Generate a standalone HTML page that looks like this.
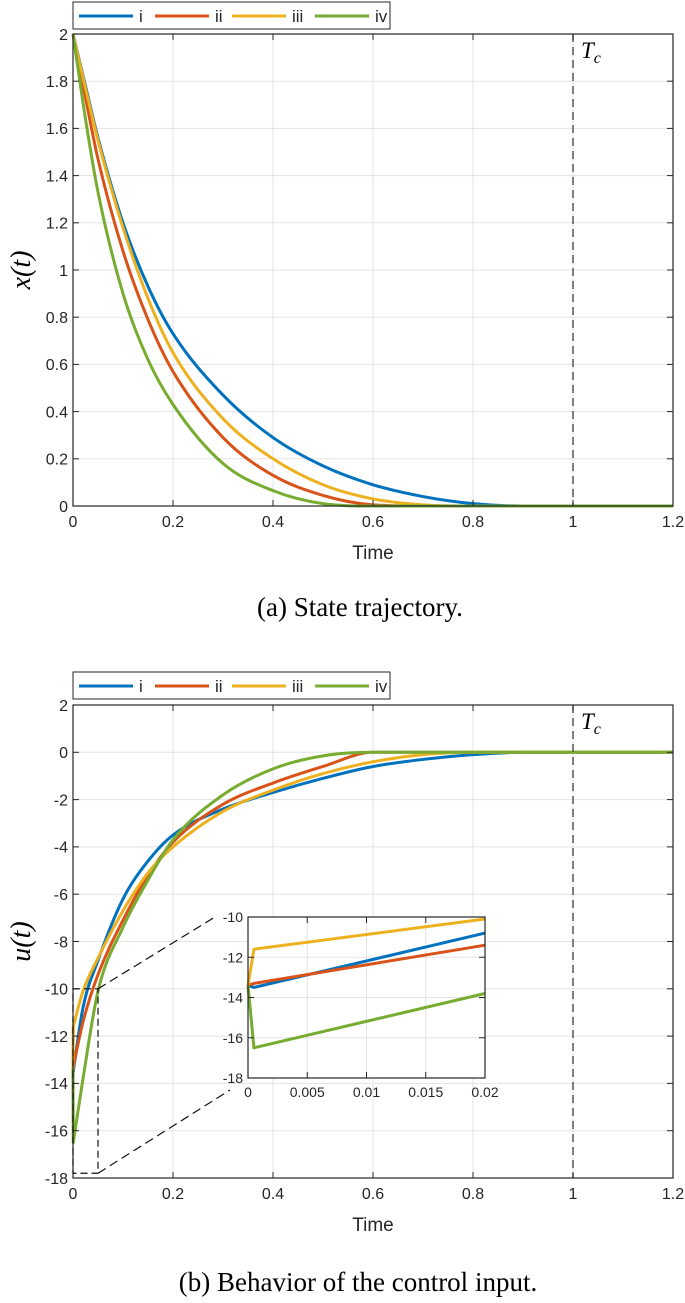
<!DOCTYPE html>
<html><head><meta charset="utf-8">
<style>
body{margin:0;background:#fff;}
svg{display:block;font-family:"Liberation Sans",sans-serif;}
</style></head>
<body>
<svg id="fig" width="685" height="1303" viewBox="0 0 685 1303" xmlns="http://www.w3.org/2000/svg">
<text x="360" y="616" font-family="Liberation Serif,serif" font-size="27" text-anchor="middle">(a) State trajectory.</text>
<text x="358" y="1291" font-family="Liberation Serif,serif" font-size="27" text-anchor="middle">(b) Behavior of the control input.</text>
</svg>
<script>
const seriesNames=['i','ii','iii','iv'];
const colors=['#0072BD','#D95319','#EDB120','#77AC30'];
// state trajectory data
const tX=[0,0.025,0.05,0.1,0.15,0.2,0.3,0.4,0.5,0.6,0.7,0.8,0.9,1.2];
const xI=[2,1.78,1.56,1.2,0.93,0.73,0.47,0.29,0.17,0.09,0.04,0.01,0,0];
const xII=[2,1.73,1.47,1.08,0.79,0.57,0.29,0.13,0.045,0.005,0,0,0,0];
const xIII=[2,1.77,1.55,1.18,0.88,0.65,0.37,0.2,0.09,0.03,0.005,0,0,0];
const xIV=[2,1.64,1.33,0.9,0.62,0.43,0.18,0.065,0.01,0,0,0,0,0];
// control input data
const tU=[0,0.0005,0.02,0.05,0.1,0.15,0.2,0.3,0.4,0.5,0.6,0.7,0.8,0.9,1.2];
const uI=[-13.4,-13.5,-10.8,-8.8,-6.2,-4.6,-3.5,-2.4,-1.7,-1.1,-0.6,-0.3,-0.1,0,0];
const uII=[-13.4,-13.3,-11.4,-9.4,-7.1,-5.2,-3.8,-2.2,-1.3,-0.6,0,0,0,0,0];
const uIII=[-13.4,-11.6,-10.1,-8.7,-6.7,-5.1,-4.0,-2.5,-1.6,-0.9,-0.4,-0.1,0,0,0];
const uIV=[-13.4,-16.5,-13.8,-10.1,-7.4,-5.4,-3.7,-1.8,-0.7,-0.15,0,0,0,0,0];
const xTicks=[0,0.2,0.4,0.6,0.8,1,1.2];
const yTicksA=[0,0.2,0.4,0.6,0.8,1,1.2,1.4,1.6,1.8,2];
const yTicksB=[-18,-16,-14,-12,-10,-8,-6,-4,-2,0,2];
const insetXTicks=[0,0.005,0.01,0.015,0.02];
const insetYTicks=[-18,-16,-14,-12,-10];
const Tc=1;

const NS='http://www.w3.org/2000/svg';
const svg=document.getElementById('fig');
function el(tag,attrs,parent){const e=document.createElementNS(NS,tag);for(const k in attrs)e.setAttribute(k,attrs[k]);(parent||svg).appendChild(e);return e;}
function txt(s,attrs,parent){const e=el('text',attrs,parent);e.textContent=s;return e;}
function makeScale(d0,d1,r0,r1){return v=>r0+(v-d0)*(r1-r0)/(d1-d0);}

function smoothPath(P){
  const n=P.length;if(n<3)return 'M'+P.map(p=>p.join(',')).join('L');
  const d=[],m=[];
  for(let i=0;i<n-1;i++){const dx=P[i+1][0]-P[i][0];d.push(dx===0?0:(P[i+1][1]-P[i][1])/dx);}
  m[0]=d[0];m[n-1]=d[n-2];
  for(let i=1;i<n-1;i++){m[i]=(d[i-1]*d[i]<=0)?0:(d[i-1]+d[i])/2;}
  for(let i=0;i<n-1;i++){if(d[i]===0){m[i]=0;m[i+1]=0;continue;}
    const a=m[i]/d[i],b=m[i+1]/d[i],s=a*a+b*b;if(s>9){const t=3/Math.sqrt(s);m[i]=t*a*d[i];m[i+1]=t*b*d[i];}}
  let s='M'+P[0][0].toFixed(2)+','+P[0][1].toFixed(2);
  for(let i=0;i<n-1;i++){const h=(P[i+1][0]-P[i][0])/3;
    s+=` C${(P[i][0]+h).toFixed(2)},${(P[i][1]+m[i]*h).toFixed(2)} ${(P[i+1][0]-h).toFixed(2)},${(P[i+1][1]-m[i+1]*h).toFixed(2)} ${P[i+1][0].toFixed(2)},${P[i+1][1].toFixed(2)}`;}
  return s;
}

function plot(opts){
  const g=el('g',{});
  
  
  const {L,R,T,B}=opts;
  const sx=makeScale(opts.x0,opts.x1,L,R), sy=makeScale(opts.y0,opts.y1,B,T);
  el('rect',{x:L,y:T,width:R-L,height:B-T,fill:'#fff'},g);
  opts.xt.forEach(v=>{const x=sx(v);const l=el('line',{x1:x,x2:x,y1:T,y2:B,stroke:'#e3e3e3','stroke-width':1},g);});
  opts.yt.forEach(v=>{const y=sy(v);const l=el('line',{x1:L,x2:R,y1:y,y2:y,stroke:'#e3e3e3','stroke-width':1},g);});
  opts.series.forEach((s,i)=>{
    const P=opts.t.map((tv,j)=>[sx(tv),sy(s[j])]);
    let dstr;
    if(opts.smoothFrom!==undefined){
      const k=opts.smoothFrom;
      dstr='M'+P.slice(0,k+1).map(p=>p[0].toFixed(2)+','+p[1].toFixed(2)).join(' L')+' '+smoothPath(P.slice(k)).replace(/^M[^ C]+/,'');
    } else dstr='M'+P.map(p=>p[0].toFixed(2)+','+p[1].toFixed(2)).join(' L');
    const p=el('path',{d:dstr,fill:'none',stroke:colors[i],'stroke-width':opts.sw||3,'stroke-linejoin':'round'},g);
    
    
  });
  if(opts.tc){
    const x=sx(Tc);
    const l=el('line',{x1:x,x2:x,y1:T,y2:B,stroke:'#555','stroke-width':1.5,'stroke-dasharray':'8,5'},g);
    
    const t=txt('T',{x:x+8,y:T+24,'font-family':'Liberation Serif,serif','font-style':'italic','font-size':23},g);
    const sub=el('tspan',{dy:5,'font-size':16});sub.textContent='c';t.appendChild(sub);
    
  }
  el('rect',{x:L,y:T,width:R-L,height:B-T,fill:'none',stroke:'#262626','stroke-width':1.2},g);
  opts.xt.forEach(v=>{const x=sx(v);el('line',{x1:x,x2:x,y1:B,y2:B-6,stroke:'#262626'},g);el('line',{x1:x,x2:x,y1:T,y2:T+6,stroke:'#262626'},g);
    const t=txt(String(v),{x:x,y:B+opts.fs+5,'font-size':opts.fs,'text-anchor':'middle',fill:'#262626'},g);});
  opts.yt.forEach(v=>{const y=sy(v);el('line',{x1:L,x2:L+6,y1:y,y2:y,stroke:'#262626'},g);el('line',{x1:R,x2:R-6,y1:y,y2:y,stroke:'#262626'},g);
    const t=txt(String(v),{x:L-5,y:y+opts.fs*0.36,'font-size':opts.fs,'text-anchor':'end',fill:'#262626'},g);});
  if(opts.xlabel){const t=txt(opts.xlabel,{x:(L+R)/2,y:B+53,'font-size':19,'text-anchor':'middle',fill:'#262626'},g);}
  if(opts.ylabel){const cy=(T+B)/2;const t=txt('',{x:0,y:0,'font-family':'Liberation Serif,serif','font-style':'italic','font-size':28,'text-anchor':'middle',transform:`translate(${L-43},${cy}) rotate(-90)`},g);
    t.textContent=opts.ylabel;}
  if(opts.legendY!==undefined){
    const lg=el('g',{},g);
    el('rect',{x:73,y:opts.legendY,width:317,height:27,fill:'#fff',stroke:'#262626','stroke-width':1},lg);
    const xs=[79,155,232,315];
    seriesNames.forEach((n,i)=>{
      const e=el('g',{},lg);
      const cy=opts.legendY+14;
      el('line',{x1:xs[i],x2:xs[i]+54,y1:cy,y2:cy,stroke:colors[i],'stroke-width':3},e);
      txt(n,{x:xs[i]+60,y:cy+6,'font-size':17,fill:'#262626'},e);
    });
  }
  return {sx,sy};
}

plot({name:'state-chart',L:73,R:673,T:34,B:506,x0:0,x1:1.2,y0:0,y1:2,xt:xTicks,yt:yTicksA,t:tX,series:[xI,xII,xIII,xIV],tc:true,fs:16,xlabel:'Time',ylabel:'x(t)',legendY:2,smoothFrom:0});
const main=plot({name:'control-chart',L:73,R:673,T:705,B:1178,x0:0,x1:1.2,y0:-18,y1:2,xt:xTicks,yt:yTicksB,t:tU,series:[uI,uII,uIII,uIV],tc:true,fs:16,xlabel:'Time',ylabel:'u(t)',legendY:672,smoothFrom:1});
const zr=el('rect',{x:main.sx(0),y:main.sy(-10),width:main.sx(0.05)-main.sx(0),height:main.sy(-17.8)-main.sy(-10),fill:'none',stroke:'#111','stroke-width':1.2,'stroke-dasharray':'7,4'});

const c1=el('line',{x1:main.sx(0.05),y1:main.sy(-10),x2:215,y2:917,stroke:'#111','stroke-width':1.2,'stroke-dasharray':'9,5'});

const c2=el('line',{x1:main.sx(0.05),y1:main.sy(-17.8),x2:230,y2:1090,stroke:'#111','stroke-width':1.2,'stroke-dasharray':'9,5'});

plot({name:'inset-chart',L:248,R:485,T:917,B:1078,x0:0,x1:0.02,y0:-18,y1:-10,xt:insetXTicks,yt:insetYTicks,t:tU.slice(0,3),series:[uI.slice(0,3),uII.slice(0,3),uIII.slice(0,3),uIV.slice(0,3)],fs:14,sw:3});
</script>
</body></html>
